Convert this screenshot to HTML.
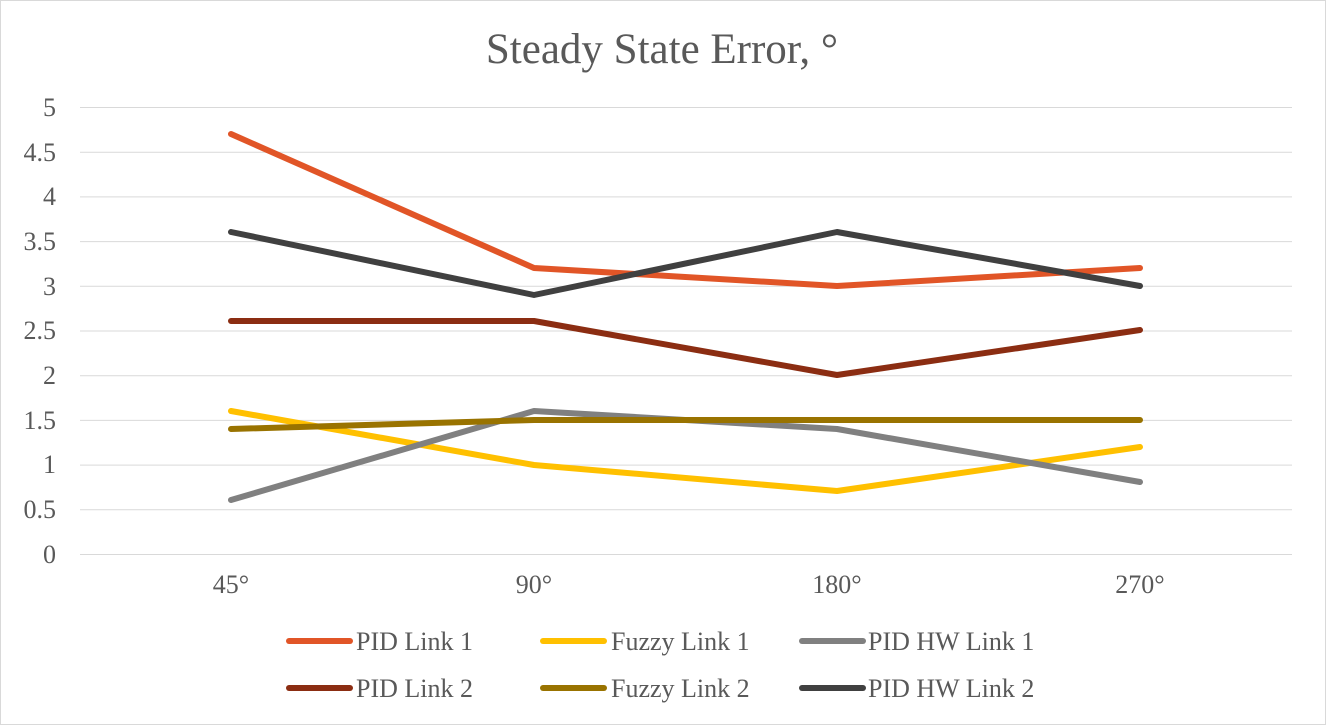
<!DOCTYPE html>
<html><head><meta charset="utf-8"><style>
html,body{margin:0;padding:0;background:#fff;}
svg{display:block;font-family:"Liberation Serif",serif;}
</style></head><body>
<svg width="1326" height="725" viewBox="0 0 1326 725" xmlns="http://www.w3.org/2000/svg">
<rect x="0.5" y="0.5" width="1325" height="724" fill="#fff" stroke="#d9d9d9"/>
<text x="662" y="63" text-anchor="middle" font-size="43" fill="#595959">Steady State Error, °</text>
<g stroke="#d9d9d9" stroke-width="1">
<line x1="80" x2="1292" y1="107.5" y2="107.5"/>
<line x1="80" x2="1292" y1="152.2" y2="152.2"/>
<line x1="80" x2="1292" y1="196.9" y2="196.9"/>
<line x1="80" x2="1292" y1="241.6" y2="241.6"/>
<line x1="80" x2="1292" y1="286.3" y2="286.3"/>
<line x1="80" x2="1292" y1="331" y2="331"/>
<line x1="80" x2="1292" y1="375.7" y2="375.7"/>
<line x1="80" x2="1292" y1="420.4" y2="420.4"/>
<line x1="80" x2="1292" y1="465.1" y2="465.1"/>
<line x1="80" x2="1292" y1="509.8" y2="509.8"/>
<line x1="80" x2="1292" y1="554.5" y2="554.5"/>
</g>
<g font-size="26" fill="#595959" text-anchor="end">
<text x="56" y="116">5</text>
<text x="56" y="161">4.5</text>
<text x="56" y="205">4</text>
<text x="56" y="250">3.5</text>
<text x="56" y="295">3</text>
<text x="56" y="339">2.5</text>
<text x="56" y="384">2</text>
<text x="56" y="429">1.5</text>
<text x="56" y="473">1</text>
<text x="56" y="518">0.5</text>
<text x="56" y="563">0</text>
</g>
<g font-size="26" fill="#595959" text-anchor="middle">
<text x="231" y="593">45°</text>
<text x="534" y="593">90°</text>
<text x="837" y="593">180°</text>
<text x="1140" y="593">270°</text>
</g>
<g fill="none" stroke-width="6" stroke-linejoin="round" stroke-linecap="round">
<polyline stroke="#FFC000" points="231,411 534,465 837,491 1140,447"/>
<polyline stroke="#808080" points="231,500 534,411 837,429 1140,482"/>
<polyline stroke="#997300" points="231,429 534,420 837,420 1140,420"/>
<polyline stroke="#8B2D12" points="231,321 534,321 837,375 1140,330"/>
<polyline stroke="#E15527" points="231,134 534,268 837,286 1140,268"/>
<polyline stroke="#404040" points="231,232 534,295 837,232 1140,286"/>
</g>
<g stroke-width="6" stroke-linecap="round">
<line x1="289" x2="350" y1="641" y2="641" stroke="#E15527"/>
<line x1="543" x2="604" y1="641" y2="641" stroke="#FFC000"/>
<line x1="802" x2="863" y1="641" y2="641" stroke="#808080"/>
<line x1="289" x2="350" y1="688" y2="688" stroke="#8B2D12"/>
<line x1="543" x2="604" y1="688" y2="688" stroke="#997300"/>
<line x1="802" x2="863" y1="688" y2="688" stroke="#404040"/>
</g>
<g font-size="26" fill="#595959">
<text x="356" y="650">PID Link 1</text>
<text x="611" y="650">Fuzzy Link 1</text>
<text x="868" y="650">PID HW Link 1</text>
<text x="356" y="697">PID Link 2</text>
<text x="611" y="697">Fuzzy Link 2</text>
<text x="868" y="697">PID HW Link 2</text>
</g>
</svg>
</body></html>
